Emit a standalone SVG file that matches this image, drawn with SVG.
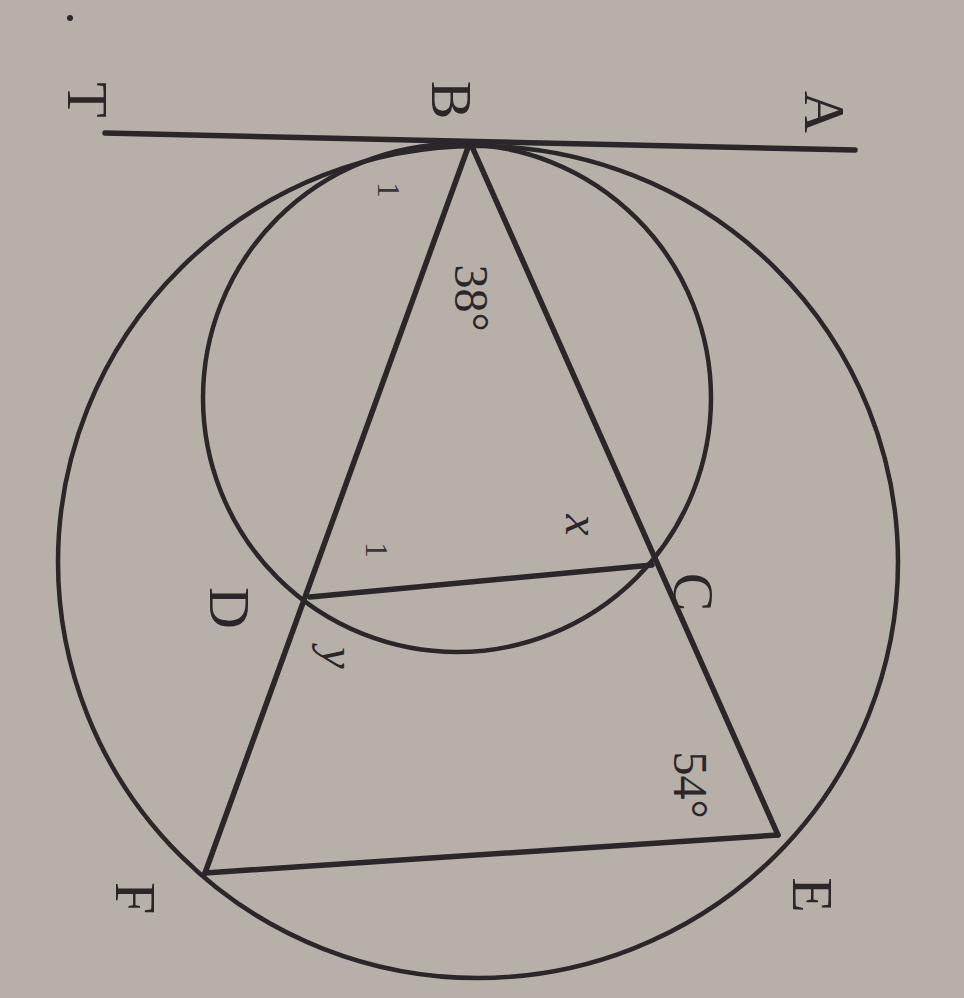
<svg xmlns="http://www.w3.org/2000/svg" width="964" height="998" viewBox="0 0 964 998">
<style>
.ln{stroke:#2b2627;stroke-width:5.5;fill:none;stroke-linecap:round;stroke-linejoin:round}
.cc{stroke:#2b2627;stroke-width:4.5;fill:none}
.lb{font-family:"Liberation Serif",serif;font-size:58px;fill:#2b2627}
.an{font-family:"Liberation Serif",serif;font-size:48px;fill:#2b2627}
.vr{font-family:"Liberation Serif",serif;font-style:italic;font-size:48px;fill:#2b2627}
.tk{font-family:"Liberation Serif",serif;font-size:32px;fill:#3a3536}
</style>
<rect width="964" height="998" fill="#b6b0a9"/>
<g id="circles">
<ellipse id="bigCircle" class="cc" cx="478" cy="562" rx="420" ry="416"/>
<circle id="smallCircle" class="cc" cx="457" cy="398" r="254"/>
</g>
<g id="connectors">
<line class="ln" x1="105" y1="133" x2="855" y2="150"/>
<polyline class="ln" points="205,873 470,142 778,835"/>
<line class="ln" x1="310" y1="597" x2="652" y2="565"/>
<line class="ln" x1="205" y1="873" x2="778" y2="835"/>
</g>
<g id="labels">
<text class="lb" transform="translate(805,112) rotate(90)" text-anchor="middle">A</text>
<text class="lb" transform="translate(432,100) rotate(90)" text-anchor="middle">B</text>
<text class="lb" transform="translate(68,100) rotate(90)" text-anchor="middle">T</text>
<text class="lb" transform="translate(674,592) rotate(90)" text-anchor="middle">C</text>
<text class="lb" transform="translate(210,608) rotate(90)" text-anchor="middle">D</text>
<text class="lb" transform="translate(793,895) rotate(90)" text-anchor="middle">E</text>
<text class="lb" transform="translate(116,898) rotate(90)" text-anchor="middle">F</text>
<text class="an" transform="translate(455,298) rotate(90)" text-anchor="middle">38°</text>
<text class="an" transform="translate(674,785) rotate(90)" text-anchor="middle">54°</text>
<text class="vr" transform="translate(566,525) rotate(90)" text-anchor="middle">x</text>
<text class="vr" transform="translate(322,658) rotate(90)" text-anchor="middle">y</text>
<text class="tk" transform="translate(378,190) rotate(90)" text-anchor="middle">1</text>
<text class="tk" transform="translate(366,550) rotate(90)" text-anchor="middle">1</text>
<circle cx="70" cy="18" r="3" fill="#2b2627"/>
</g>
</svg>
